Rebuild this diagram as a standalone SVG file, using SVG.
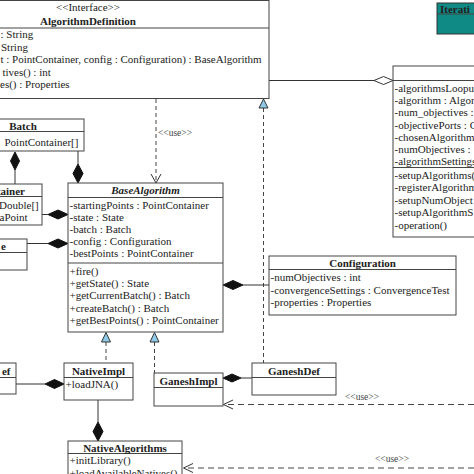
<svg xmlns="http://www.w3.org/2000/svg" width="474" height="474" viewBox="0 0 474 474">
<defs>
<style>
.box{fill:#fff;stroke:#444;stroke-width:1}
.div{stroke:#444;stroke-width:1}
.t{font-family:"Liberation Serif","Times New Roman",serif;font-size:11px;fill:#222}
.b{font-weight:bold;text-anchor:middle}
.bi{font-weight:bold;font-style:italic;text-anchor:middle}
.m{text-anchor:middle}
.u{font-family:"Liberation Serif","Times New Roman",serif;font-size:9.5px;fill:#444;text-anchor:middle}
.ln{fill:none;stroke:#333;stroke-width:1}
.dash{fill:none;stroke:#444;stroke-width:1;stroke-dasharray:4 3}
.dash2{fill:none;stroke:#444;stroke-width:1;stroke-dasharray:6 4}
.fd{fill:#111;stroke:#111;stroke-width:1}
.hd{fill:#fff;stroke:#333;stroke-width:1}
.tri{fill:#8fcbe8;stroke:#333;stroke-width:1}
</style>
</defs>
<rect width="474" height="474" fill="#fff"/>

<g id="connectors">
  <line class="ln" x1="269" y1="80.5" x2="374" y2="80.5"/>
  <polygon class="hd" points="374,80.5 383.5,76.5 393,80.5 383.5,84.5"/>
  <line class="dash" x1="156" y1="99" x2="156" y2="183"/>
  <polyline class="ln" points="151,174 156,183 161,174"/>
  <text class="u" x="175" y="135.5">&lt;&lt;use&gt;&gt;</text>
  <line class="dash" x1="263.5" y1="108" x2="263.5" y2="363"/>
  <polygon class="tri" points="263.5,99 259,108 268,108"/>
  <line class="ln" x1="15" y1="170" x2="15" y2="184"/>
  <polygon class="fd" points="15,152 19.5,161 15,170 10.5,161"/>
  <line class="ln" x1="78" y1="151" x2="78" y2="164"/>
  <polygon class="fd" points="78,164 83,173.5 78,183 73,173.5"/>
  <line class="ln" x1="42" y1="214.5" x2="48" y2="214.5"/>
  <polygon class="fd" points="48,214.5 58,210 68,214.5 58,219"/>
  <line class="ln" x1="27" y1="243.5" x2="48" y2="243.5"/>
  <polygon class="fd" points="48,243.5 58,239 68,243.5 58,248"/>
  <line class="ln" x1="243" y1="285" x2="269" y2="285"/>
  <polygon class="fd" points="223,285 233,280.5 243,285 233,289.5"/>
  <line class="dash" x1="106" y1="342" x2="106" y2="363"/>
  <polygon class="tri" points="106,332.5 101.5,342 110.5,342"/>
  <line class="dash" x1="154.5" y1="342" x2="154.5" y2="373"/>
  <polygon class="tri" points="154.5,332.5 150,342 159,342"/>
  <line class="ln" x1="16" y1="384" x2="45" y2="384"/>
  <polygon class="fd" points="45,384 54.5,379.5 64,384 54.5,388.5"/>
  <line class="ln" x1="98" y1="400" x2="98" y2="422"/>
  <polygon class="fd" points="98,422 103,431.5 98,441 93,431.5"/>
  <line class="ln" x1="241" y1="378" x2="252" y2="378"/>
  <polygon class="fd" points="223,378 232,374 241,378 232,382"/>
  <line class="dash2" x1="474" y1="404.5" x2="224" y2="404.5"/>
  <polyline class="ln" points="233,400 223.5,404.5 233,409"/>
  <text class="u" x="362" y="400">&lt;&lt;use&gt;&gt;</text>
  <line class="dash2" x1="474" y1="468" x2="184" y2="468"/>
  <polyline class="ln" points="193,463.5 183.5,468 193,472.5"/>
  <text class="u" x="392" y="462">&lt;&lt;use&gt;&gt;</text>
</g>

<g id="AlgorithmDefinition">
  <rect class="box" x="-93" y="0.5" width="362" height="98"/>
  <line class="div" x1="-93" y1="28" x2="269" y2="28"/>
  <text class="t m" x="88" y="10.5">&lt;&lt;Interface&gt;&gt;</text>
  <text class="t b" x="88" y="24.5">AlgorithmDefinition</text>
  <text class="t" x="0.5" y="38">: String</text>
  <text class="t" x="1" y="50.5">String</text>
  <text class="t" x="0.5" y="63">t : PointContainer, config : Configuration) : BaseAlgorithm</text>
  <text class="t" x="2.5" y="75.5">tives() : int</text>
  <text class="t" x="0" y="88">es() : Properties</text>
</g>

<g id="Iterative">
  <rect x="437" y="3" width="50" height="31" fill="#0f8a85" stroke="#333" stroke-width="1"/>
  <line class="div" x1="437" y1="14" x2="474" y2="14"/>
  <text class="t" x="440" y="12.5" font-weight="bold" fill="#111">Iterati</text>
</g>

<g id="LoopClass">
  <rect class="box" x="393" y="66" width="100" height="171"/>
  <line class="div" x1="393" y1="80.5" x2="474" y2="80.5"/>
  <text class="t" x="394.5" y="91.5">-algorithmsLoopu</text>
  <text class="t" x="394.5" y="104">-algorithm : Algor</text>
  <text class="t" x="394.5" y="116">-num_objectives :</text>
  <text class="t" x="394.5" y="128.5">-objectivePorts : C</text>
  <text class="t" x="394.5" y="141">-chosenAlgorithm</text>
  <text class="t" x="394.5" y="153">-numObjectives :</text>
  <text class="t" x="394.5" y="165">-algorithmSettings</text>
  <line class="div" x1="393" y1="167.5" x2="474" y2="167.5"/>
  <text class="t" x="394.5" y="178.5">-setupAlgorithms(</text>
  <text class="t" x="394.5" y="191">-registerAlgorithm</text>
  <text class="t" x="394.5" y="203.5">-setupNumObject</text>
  <text class="t" x="394.5" y="216">-setupAlgorithmS</text>
  <text class="t" x="394.5" y="228.5">-operation()</text>
</g>

<g id="Batch">
  <rect class="box" x="-38" y="119" width="122" height="32"/>
  <line class="div" x1="-38" y1="131.5" x2="84" y2="131.5"/>
  <text class="t b" x="23" y="129.5">Batch</text>
  <text class="t" x="4.5" y="145.5">PointContainer[]</text>
</g>

<g id="PointContainer">
  <rect class="box" x="-60" y="184" width="102" height="41"/>
  <line class="div" x1="-60" y1="196.5" x2="42" y2="196.5"/>
  <text class="t" x="25" y="194.5" font-weight="bold" text-anchor="end">tainer</text>
  <text class="t" x="-1" y="208.5">Double[]</text>
  <text class="t" x="-0.5" y="220.5">aPoint</text>
</g>

<g id="State">
  <rect class="box" x="-40" y="239" width="67" height="31"/>
  <line class="div" x1="-40" y1="252.5" x2="27" y2="252.5"/>
  <text class="t" x="1" y="249.5" font-weight="bold">e</text>
</g>

<g id="BaseAlgorithm">
  <rect class="box" x="68" y="183" width="155" height="149"/>
  <line class="div" x1="68" y1="197.5" x2="223" y2="197.5"/>
  <text class="t bi" x="145.5" y="194">BaseAlgorithm</text>
  <text class="t" x="69.5" y="209">-startingPoints : PointContainer</text>
  <text class="t" x="69.5" y="221">-state : State</text>
  <text class="t" x="69.5" y="233">-batch : Batch</text>
  <text class="t" x="69.5" y="245">-config : Configuration</text>
  <text class="t" x="69.5" y="257">-bestPoints : PointContainer</text>
  <line class="div" x1="68" y1="263" x2="223" y2="263"/>
  <text class="t" x="69.5" y="275">+fire()</text>
  <text class="t" x="69.5" y="287">+getState() : State</text>
  <text class="t" x="69.5" y="299">+getCurrentBatch() : Batch</text>
  <text class="t" x="69.5" y="311.5">+createBatch() : Batch</text>
  <text class="t" x="69.5" y="324">+getBestPoints() : PointContainer</text>
</g>

<g id="Configuration">
  <rect class="box" x="269" y="256" width="187" height="59"/>
  <line class="div" x1="269" y1="269.5" x2="456" y2="269.5"/>
  <text class="t b" x="362.5" y="266.5">Configuration</text>
  <text class="t" x="270.5" y="280.5">-numObjectives : int</text>
  <text class="t" x="270.5" y="293.5">-convergenceSettings : ConvergenceTest</text>
  <text class="t" x="270.5" y="305.5">-properties : Properties</text>
</g>

<g id="NativeDef">
  <rect class="box" x="-50" y="363" width="66" height="31"/>
  <line class="div" x1="-50" y1="377.5" x2="16" y2="377.5"/>
  <text class="t" x="10.5" y="374.5" font-weight="bold" text-anchor="end">ef</text>
</g>

<g id="NativeImpl">
  <rect class="box" x="64" y="363" width="69" height="37"/>
  <line class="div" x1="64" y1="377.5" x2="133" y2="377.5"/>
  <text class="t b" x="98.5" y="374.5">NativeImpl</text>
  <text class="t" x="65.5" y="388">+loadJNA()</text>
</g>

<g id="GaneshImpl">
  <rect class="box" x="154" y="373" width="69" height="33"/>
  <line class="div" x1="154" y1="387.5" x2="223" y2="387.5"/>
  <text class="t b" x="188.5" y="384.5">GaneshImpl</text>
</g>

<g id="GaneshDef">
  <rect class="box" x="252" y="363" width="84" height="32"/>
  <line class="div" x1="252" y1="377.5" x2="336" y2="377.5"/>
  <text class="t b" x="294" y="374.5">GaneshDef</text>
</g>

<g id="NativeAlgorithms">
  <rect class="box" x="68" y="441" width="114" height="40"/>
  <line class="div" x1="68" y1="453.5" x2="182" y2="453.5"/>
  <text class="t b" x="125" y="451.5">NativeAlgorithms</text>
  <text class="t" x="69.5" y="464">+initLibrary()</text>
  <text class="t" x="69.5" y="476.5">+loadAvailableNatives()</text>
</g>
</svg>
